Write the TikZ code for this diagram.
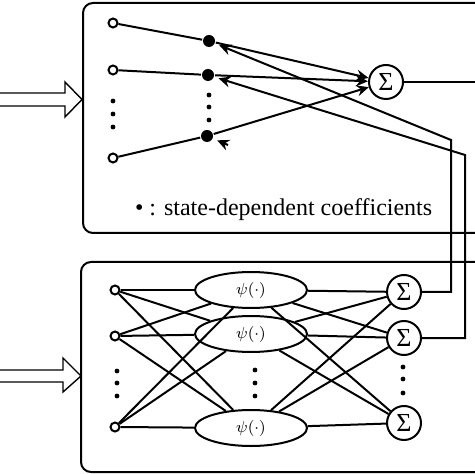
\documentclass[tikz,border=0pt]{standalone}
\usepackage{fontspec}
\setmainfont{Liberation Serif}
\usepackage{amsmath}
\usetikzlibrary{arrows.meta,shapes.geometric}

\begin{document}
\begin{tikzpicture}[x=0.5pt,y=-0.5pt,line width=1pt,
    inp/.style={circle,draw,fill=white,inner sep=0pt,minimum size=4.5pt},
    coef/.style={circle,fill=black,inner sep=0pt,minimum size=6pt},
    sumnode/.style={circle,draw,inner sep=0pt,minimum size=17pt,font=\fontsize{13}{13}\selectfont},
    psinode/.style={ellipse,draw,inner sep=0pt,minimum width=56pt,minimum height=18pt,font=\fontsize{8}{8}\selectfont},
    vdot/.style={circle,fill=black,inner sep=0pt,minimum size=2.4pt},
    >={Stealth[length=6pt,width=5.5pt,inset=2pt]}]

    \useasboundingbox (0,0) rectangle (474,474);

    % boxes
    \draw[rounded corners=5pt] (83,3) rectangle (520,233);
    \draw[rounded corners=5pt] (81,262) rectangle (520,472);

    % hollow input arrows
    \draw[line width=0.7pt] (-10,93) -- (65,93) -- (65,82) -- (82,99.5) -- (65,117) -- (65,106) -- (-10,106);
    \draw[line width=0.7pt] (-10,370) -- (63,370) -- (63,358) -- (81,376) -- (63,392) -- (63,382) -- (-10,382);

    % upper block
    \node[inp] at (113,23) (x1) {};
    \node[inp] at (113,70) (x2) {};
    \node[inp] at (113,158) (x3) {};
    \node[coef] at (209,41) (c1) {};
    \node[coef] at (208,75) (c2) {};
    \node[coef] at (207,136) (c3) {};
    \node[sumnode] at (386,82) (S) {Σ};
    \foreach \y in {101,114,127} \node[vdot] at (113,\y) (xd\y) {};
    \foreach \y in {95,107,120} \node[vdot] at (209,\y) (cd\y) {};
    \coordinate (out) at (520,82);

    \draw (x1) -- (c1);
    \draw (x2) -- (c2);
    \draw (x3) -- (c3);
    \draw[->] (c1) -- (S);
    \draw[->] (c2) -- (S);
    \draw[->] (c3) -- (S);
    \draw (S.east) -- (out);

    \node[anchor=base west,inner sep=0pt,font=\fontsize{12}{14}\selectfont] at (134,216) (legend) {\textbullet\ : state-dependent coefficients};

    % lower block
    \node[inp] at (115,290) (u1) {};
    \node[inp] at (115,336) (u2) {};
    \node[inp] at (115,427) (u3) {};
    \node[psinode] at (251,290) (h1) {$\psi(\cdot)$};
    \node[psinode] at (251,334) (h2) {$\psi(\cdot)$};
    \node[psinode] at (251,428) (h3) {$\psi(\cdot)$};
    \node[sumnode] at (404,292) (o1) {Σ};
    \node[sumnode] at (404,338) (o2) {Σ};
    \node[sumnode] at (404,423) (o3) {Σ};
    \foreach \y in {371,383,396} \node[vdot] at (117,\y) (ud\y) {};
    \foreach \y in {370,383,396} \node[vdot] at (255,\y) (hd\y) {};
    \foreach \y in {367,379,393} \node[vdot] at (403,\y) (od\y) {};

    \foreach \i in {1,2,3}
        \foreach \j in {1,2,3} {
            \draw (u\i) -- (h\j);
            \draw (h\i) -- (o\j);
        }

    % feedback to the coefficients
    \coordinate (k1) at (451,140);
    \coordinate (k2) at (465,155);
    \coordinate (k3) at (228,145);
    \draw[->,shorten >=2pt] (o1.east) -| (k1) -- (c1);
    \draw[->,shorten >=2pt] (o2.east) -| (k2) -- (c2);
    \draw[->,shorten >=2pt] (k3) -- (c3);

\end{tikzpicture}
\end{document}
